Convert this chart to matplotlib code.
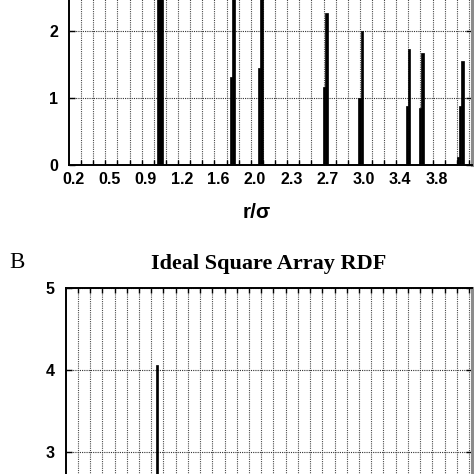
import matplotlib
matplotlib.use('Agg')
import matplotlib.pyplot as plt
from matplotlib.ticker import FixedLocator, FixedFormatter

# ---- data ----
# Panel A (hexagonal array RDF, only lower part visible)
a_r = [0.979, 0.997, 1.015, 1.705, 1.729, 1.983, 2.007, 2.624, 2.649,
       2.978, 3.002, 3.444, 3.467, 3.576, 3.600, 3.949, 3.972, 3.996]
a_g = [3.0, 6.0, 4.0, 1.31, 2.62, 1.45, 2.90, 1.16, 2.27,
       1.00, 2.00, 0.88, 1.74, 0.85, 1.68, 0.13, 0.88, 1.56]
# Panel B (ideal square array RDF, only upper part visible)
b_r = [1.0, 1.414, 2.0, 2.236, 2.828, 3.0, 3.162, 3.606, 4.0]
b_g = [4.06, 2.6, 2.0, 2.5, 1.4, 1.3, 2.3, 2.0, 1.0]
x_tick_labels = ['0.2', '0.5', '0.9', '1.2', '1.6', '2.0', '2.3', '2.7', '3.0', '3.4', '3.8']
a_yticks = [0, 1, 2]
b_yticks = [3, 4, 5]
title_b = 'Ideal Square Array RDF'
xlabel = 'r/\u03c3'

W = H = 474.0
fig = plt.figure(figsize=(4.74, 4.74), dpi=100)
fig.patch.set_facecolor('white')

SANS = 'Liberation Sans'
SERIF = 'Liberation Serif'

xlim = (0.1, 4.09)
grid_pos = [0.1 + 0.12 * k for k in range(1, 34)]
label_pos = [0.14 + 0.36 * j for j in range(len(x_tick_labels))]


def style(ax, yticks, show_xlabels):
    ax.set_xlim(*xlim)
    ax.set_ylim(0, 5)
    ax.xaxis.set_major_locator(FixedLocator(label_pos))
    ax.xaxis.set_major_formatter(FixedFormatter(x_tick_labels))
    ax.xaxis.set_minor_locator(FixedLocator(grid_pos))
    ax.set_yticks(yticks)
    ax.set_yticklabels([str(v) for v in yticks])
    ax.tick_params(axis='x', which='major', length=0, pad=5,
                   labelsize=11.5, labelbottom=show_xlabels)
    ax.tick_params(axis='x', which='minor', direction='in', length=3.8,
                   width=1.0, top=True, bottom=True, color='black')
    ax.tick_params(axis='y', which='major', direction='in', length=4,
                   width=1.0, left=True, right=True, pad=8, labelsize=11.5)
    for lab in ax.get_xticklabels() + ax.get_yticklabels():
        lab.set_fontfamily(SANS)
        lab.set_fontweight('bold')
    ax.grid(which='minor', axis='x', color='#4a4a4a', lw=0.8,
            ls=(0, (1, 1)))
    ax.grid(which='major', axis='y', color='#333333', lw=0.8,
            ls=(0, (1, 1)))
    ax.grid(which='major', axis='x', visible=False)
    ax.set_axisbelow(True)
    for s in ['left', 'top', 'bottom']:
        ax.spines[s].set_linewidth(1.4)
        ax.spines[s].set_color('black')
    ax.spines['right'].set_linewidth(2.2)
    ax.spines['right'].set_color('#8c8c8c')


# Panel A
axA = fig.add_axes([69 / W, (H - 165.3) / H, (472 - 69) / W, 5 * 67.1 / H])
axA.bar(a_r, a_g, width=0.024, color='black', edgecolor='black',
        align='center', lw=0.5)
style(axA, a_yticks, True)

fig.text(257 / W, 1 - 212 / H, xlabel, ha='center', va='center',
         fontsize=15, fontweight='bold', family=SANS)

# Panel B
axB = fig.add_axes([65.7 / W, (H - 288.3 - 5 * 81.7) / H, (472 - 65.7) / W,
                    5 * 81.7 / H])
axB.bar(b_r, b_g, width=0.022, color='black', edgecolor='black',
        align='center', lw=0.5)
style(axB, b_yticks, False)

fig.text(269 / W, 1 - 269 / H, title_b, ha='center', va='baseline',
         fontsize=16, fontweight='bold', family=SERIF)
fig.text(9 / W, 1 - 268.5 / H, 'B', ha='left', va='baseline',
         fontsize=16.5, family=SERIF)

fig.savefig('out.png', dpi=100, facecolor='white')
